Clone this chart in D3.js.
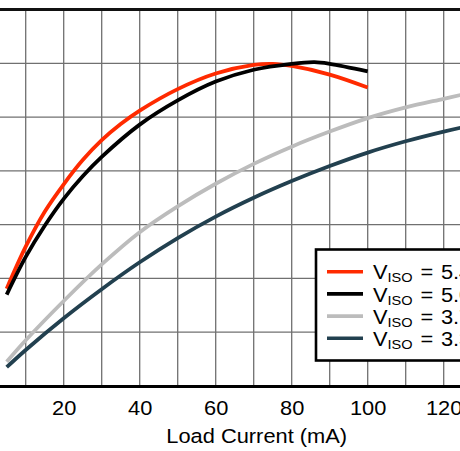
<!DOCTYPE html>
<meta charset="utf-8">
<style>
body { margin: 0; background: #fff; }
text { font-family: "Liberation Sans", Arial, sans-serif; fill: #000; }
.grid line { stroke: #707070; stroke-width: 1.3; }
.curve { fill: none; stroke-width: 3.8; stroke-linejoin: round; }
</style>
<svg width="460" height="451"></svg>
<script src="https://d3js.org/d3.v7.min.js"></script>
<script>

// values (load current in mA, efficiency-like y value)
var v54 = [[5,18.1],[10,25.9],[15,32.4],[20,37.5],[25,42.0],[30,45.7],[35,48.7],[40,51.2],[50,55.2],[60,58.1],[70,59.7],[75,59.9],[80,59.5],[90,57.9],[100,55.5]];
var v50 = [[5,17],[10,24],[15,29.8],[20,34.8],[25,39.0],[30,42.6],[40,48.6],[50,53.1],[60,56.6],[70,58.8],[80,59.9],[86,60.2],[90,59.9],[100,58.5]];
var v37 = [[5,4.5],[10,8.5],[20,15.8],[30,22.6],[40,28.6],[50,33.4],[60,37.6],[70,41.3],[80,44.5],[90,47.3],[100,49.8],[110,51.8],[120,53.4],[125,54.2]];
var v33 = [[5,3.5],[10,6.7],[20,12.6],[30,18.0],[40,23.0],[50,27.5],[60,31.5],[70,35.0],[80,38.1],[90,40.9],[100,43.4],[110,45.5],[120,47.3],[125,48.1]];

var legendLabels = ["= 5.4 V", "= 5.0 V", "= 3.7 V", "= 3.3 V"];
var xTickLabels = [20, 40, 60, 80, 100, 120];
var xGrid = d3.range(10, 140, 10);
var yGrid = d3.range(10, 70, 10);

var series = [
  {data: v54, color: "#ff2a00"},
  {data: v50, color: "#000000"},
  {data: v37, color: "#bcbcbc"},
  {data: v33, color: "#22404f"}
];

var svg = d3.select("svg");

// the plot is cropped: the y axis sits off the left edge
var x = d3.scaleLinear().domain([0, 140]).range([-12.3, 519.7]),
    y = d3.scaleLinear().domain([0, 70]).range([386, 9.5]);

var sx = 1.12; // text in the picture is a bit wide

var grid = svg.append("g").attr("class", "grid");
grid.selectAll(".vx").data(xGrid).enter().append("line")
    .attr("x1", function(d) { return x(d); })
    .attr("x2", function(d) { return x(d); })
    .attr("y1", y(70)).attr("y2", y(0));
grid.selectAll(".hy").data(yGrid).enter().append("line")
    .attr("x1", x(0)).attr("x2", x(140))
    .attr("y1", function(d) { return y(d); })
    .attr("y2", function(d) { return y(d); });

// frame top and bottom axis
svg.append("line").attr("x1", x(0)).attr("x2", x(140))
    .attr("y1", y(70)).attr("y2", y(70))
    .attr("stroke", "#111").attr("stroke-width", 3);

var xAxis = svg.append("g")
    .attr("transform", "translate(0," + y(0) + ")")
    .call(d3.axisBottom(x).tickValues(xTickLabels).tickSize(0).tickPadding(0));
xAxis.select(".domain").attr("stroke", "#000").attr("stroke-width", 3);
xAxis.selectAll(".tick text")
    .attr("y", 29).attr("dy", 0)
    .attr("font-size", 19.5)
    .attr("font-family", "Liberation Sans, Arial, sans-serif")
    .attr("fill", "#000")
    .attr("transform", "scale(" + sx + ",1)");

svg.append("text")
    .attr("transform", "translate(256.7,443.3) scale(" + sx + ",1)")
    .attr("text-anchor", "middle")
    .attr("font-size", 19.5)
    .text("Load Current (mA)");

var line = d3.line()
    .x(function(d) { return x(d[0]); })
    .y(function(d) { return y(d[1]); })
    .curve(d3.curveCatmullRom.alpha(0.5));

svg.selectAll(".curve").data(series).enter().append("path")
    .attr("class", "curve")
    .attr("stroke", function(d) { return d.color; })
    .attr("d", function(d) { return line(d.data); });

// legend
var lg = svg.append("g");
lg.append("rect")
    .attr("x", 316).attr("y", 249.5)
    .attr("width", 200).attr("height", 111)
    .attr("fill", "#fff").attr("stroke", "#000").attr("stroke-width", 2.6);

var rows = lg.selectAll(".row").data(series).enter().append("g")
    .attr("transform", function(d, i) { return "translate(0," + (271.7 + i * 22.2) + ")"; });
rows.append("line")
    .attr("x1", 327).attr("x2", 363)
    .attr("stroke", function(d) { return d.color; })
    .attr("stroke-width", 3.6);
var t = rows.append("text")
    .attr("transform", "translate(373,7.6) scale(" + sx + ",1)")
    .attr("font-size", 19.5)
    .attr("word-spacing", 1.5);
t.append("tspan").text("V");
t.append("tspan").attr("font-size", 13).attr("dy", 3).text("ISO");
t.append("tspan").attr("dy", -3).text(function(d, i) { return " " + legendLabels[i]; });

</script>
